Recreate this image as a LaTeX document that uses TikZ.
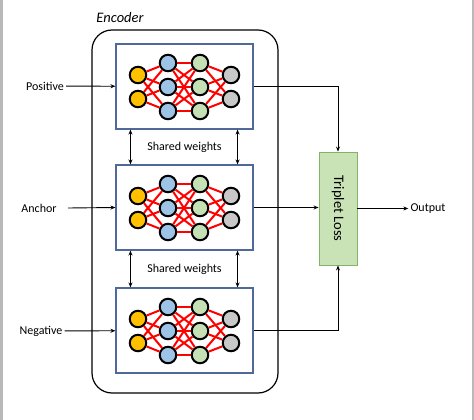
\documentclass[tikz,border=0pt]{standalone}
\usepackage{fontspec}
\setmainfont{Carlito}
\usepackage{tikz}
\usetikzlibrary{calc,arrows.meta}
\definecolor{boxblue}{HTML}{4F6A9A}
\definecolor{inyellow}{HTML}{FFC000}
\definecolor{hidblue}{HTML}{9DC3E6}
\definecolor{hidgreen}{HTML}{C5E0B4}
\definecolor{outgray}{HTML}{C8C8C8}
\definecolor{lossfill}{HTML}{C9E2B6}
\definecolor{lossdraw}{HTML}{82B366}
\tikzset{
  neuron/.style={circle, draw=black, line width=2pt, minimum size=16.5pt, inner sep=0pt},
  synapse/.style={red, line width=2pt},
  encbox/.style={draw=boxblue, line width=1.1pt, fill=white, minimum width=137pt, minimum height=85pt},
  lbl/.style={font=\fontsize{12}{14}\selectfont, inner sep=2pt},
}
% one small network inside an encoder box
\newcommand{\encnet}[2]{
\node[neuron, fill=inyellow] (#1a1) at (138, #2-12) {};
\node[neuron, fill=inyellow] (#1a2) at (138, #2+12) {};
\node[neuron, fill=hidblue]  (#1b1) at (168, #2-24) {};
\node[neuron, fill=hidblue]  (#1b2) at (168, #2)    {};
\node[neuron, fill=hidblue]  (#1b3) at (168, #2+24) {};
\node[neuron, fill=hidgreen] (#1c1) at (200, #2-24) {};
\node[neuron, fill=hidgreen] (#1c2) at (200, #2)    {};
\node[neuron, fill=hidgreen] (#1c3) at (200, #2+24) {};
\node[neuron, fill=outgray]  (#1d1) at (231, #2-12) {};
\node[neuron, fill=outgray]  (#1d2) at (231, #2+12) {};
\foreach \i in {1,2} \foreach \j in {1,2,3} {
  \draw[synapse] (#1a\i) -- (#1b\j);
  \draw[synapse] (#1c\j) -- (#1d\i);
}
\foreach \i in {1,2,3} \foreach \j in {1,2,3}
  \draw[synapse] (#1b\i) -- (#1c\j);
}

\begin{document}
\begin{tikzpicture}[x=1pt, y=-1pt, >={Stealth[length=5pt, width=4pt]}]
\useasboundingbox (0,0) rectangle (474,420);
\fill[white] (0,0) rectangle (474,420);
\draw[gray!55, line width=2.5pt] (1.25,0) -- (1.25,420);
\draw[gray!55, line width=2.5pt] (472.75,0) -- (472.75,420);

% encoder frame
\node[font=\fontsize{14.5}{16}\selectfont\itshape] (enc) at (120, 18) {Encoder};
\draw[line width=1.2pt, rounded corners=20pt] (92,30) rectangle (278,393);

% three encoder boxes
\node[encbox] (pos) at (184.5, 86.5)  {};
\node[encbox] (anc) at (184.5, 207.5) {};
\node[encbox] (neg) at (184.5, 330.5) {};
\encnet{p}{87}
\encnet{a}{208}
\encnet{n}{331}

% inputs
\node[lbl] (lpos) at (45, 86)  {Positive};
\node[lbl] (lanc) at (39, 208) {Anchor};
\node[lbl] (lneg) at (41, 331) {Negative};
\draw[->, line width=0.9pt] (lpos) -- (pos);
\draw[->, line width=0.9pt] (lanc.east) ++(9,0) -- (anc.west);
\draw[->, line width=0.9pt] (lneg) -- (neg);

% shared weights
\draw[<->, line width=0.9pt] ($(pos.south west)+(15,0)$) -- ($(anc.north west)+(15,0)$);
\draw[<->, line width=0.9pt] ($(pos.south east)+(-16,0)$) -- ($(anc.north east)+(-16,0)$);
\draw[<->, line width=0.9pt] ($(anc.south west)+(15,0)$) -- ($(neg.north west)+(15,0)$);
\draw[<->, line width=0.9pt] ($(anc.south east)+(-16,0)$) -- ($(neg.north east)+(-16,0)$);
\node[lbl] (sw1) at ($(pos.south)!0.5!(anc.north)$) {Shared weights};
\node[lbl] (sw2) at ($(anc.south)!0.5!(neg.north)$) {Shared weights};

% triplet loss (text runs downwards)
\node[draw=lossdraw, fill=lossfill, line width=0.9pt, minimum width=113pt, minimum height=38pt,
      rotate=-90, font=\fontsize{14.5}{16}\selectfont] (loss) at (338, 208.5) {Triplet Loss};
\draw[->, line width=0.9pt] (pos.east) -| (loss.west);
\draw[->, line width=0.9pt] (anc.east) -- (anc.east -| loss.south);
\draw[->, line width=0.9pt] (neg.east) -| (loss.east);

% output
\node[lbl] (out) at (428, 208.5) {Output};
\draw[->, line width=0.9pt] (loss.north) -- (out.west);
\end{tikzpicture}
\end{document}
